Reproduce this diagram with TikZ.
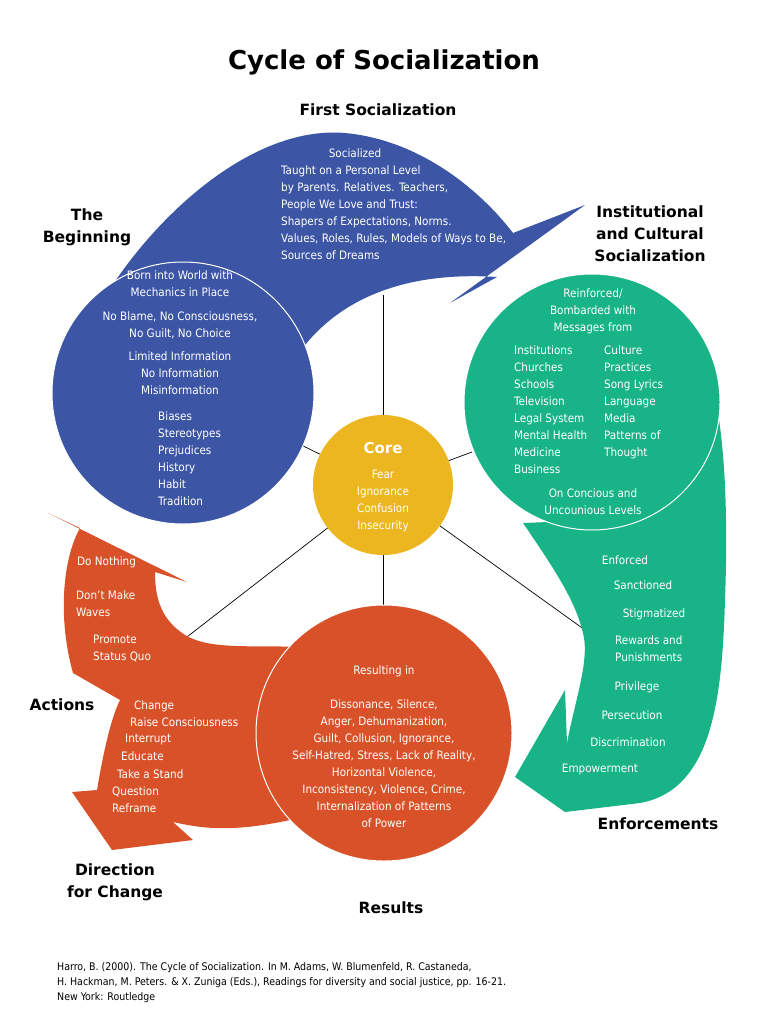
\documentclass[tikz,border=0pt]{standalone}
\usepackage{fontspec}
\setmainfont{DejaVu Sans Condensed}
\newfontfamily\boldf{DejaVu Sans}
\definecolor{cblue}{RGB}{60,85,165}
\definecolor{cgreen}{RGB}{24,180,135}
\definecolor{corange}{RGB}{217,81,40}
\definecolor{cyellow}{RGB}{236,182,33}
\begin{document}
\begin{tikzpicture}[x=1pt,y=-1pt,
  txt/.style={text=white,inner sep=0,font=\fontsize{11.6}{17}\selectfont,anchor=north},
  lab/.style={inner sep=0,font=\boldf\bfseries\fontsize{15.5}{22}\selectfont,align=center},
  circ/.style={circle,draw=white,line width=1pt,inner sep=0},
  spoke/.style={black,line width=0.7pt}]
\useasboundingbox (0,0) rectangle (768,1024);
\node[font=\boldf\bfseries\fontsize{26}{28}\selectfont,inner sep=0] (title) at (384,62) {Cycle of Socialization};
% core + spokes
\coordinate (c) at (383,485);
\coordinate (s1) at (383,295);
\coordinate (s2) at (295,442);
\coordinate (s3) at (472,452);
\coordinate (s4) at (183,640);
\coordinate (s5) at (383,618);
\coordinate (s6) at (585,630);
\foreach \s in {s1,s2,s3,s4,s5,s6} \draw[spoke] (c) -- (\s);
% blue arrow
\fill[cblue] (100,305) .. controls (150,220) and (250,125) .. (345,133)
  .. controls (420,140) and (480,190) .. (513,233) -- (585,205) -- (450,303)
  -- (497,277) .. controls (420,272) and (350,290) .. (305,345) -- (150,300) -- cycle;
\node[circ,fill=cblue,minimum size=262pt] (blue) at (183,393) {};
% green arrow
\fill[cgreen] (690,330) .. controls (728,380) and (728,520) .. (725,600)
  .. controls (722,700) and (712,790) .. (640,803) -- (565,812) -- (515,777) -- (565,690) -- (567,743)
  .. controls (575,700) and (590,660) .. (583,633) .. controls (575,600) and (555,570) .. (523,523) -- (600,520) -- cycle;
\node[circ,fill=cgreen,minimum size=256pt] (green) at (592,402) {};
% orange arrow
\fill[corange] (48,513) -- (80,528) .. controls (62,560) and (58,620) .. (73,673)
  -- (120,700) .. controls (110,720) and (102,760) .. (97,790) -- (72,792) -- (112,850)
  -- (193,840) -- (173,822) .. controls (200,828) and (230,833) .. (290,820)
  -- (300,700) -- (303,647) .. controls (250,645) and (210,650) .. (185,635)
  .. controls (162,620) and (155,600) .. (155,572) -- (187,582) -- cycle;
\node[circ,fill=corange,minimum size=256pt] (orange) at (384,733) {};
\node[circle,fill=cyellow,inner sep=0,minimum size=140pt] (core) at (c) {};
% labels
\node[lab] (l1) at (378,110) {First Socialization};
\node[lab] (l2) at (87,227) {The\\Beginning};
\node[lab] (l3) at (650,234) {Institutional\\and Cultural\\Socialization};
\node[lab] (l4) at (62,705) {Actions};
\node[lab] (l5) at (115,882) {Direction\\for Change};
\node[lab] (l6) at (391,908) {Results};
\node[lab] (l7) at (658,824) {Enforcements};
% blue texts
\node[txt] (b0) at (355,148) {Socialized};
\node[txt,anchor=north west,align=left] (b1) at (281,165) {Taught on a Personal Level\\by Parents. Relatives. Teachers,\\People We Love and Trust:\\Shapers of Expectations, Norms.\\Values, Roles, Rules, Models of Ways to Be,\\Sources of Dreams};
\node[txt,align=center] (b2) at (180,270) {Born into World with\\Mechanics in Place};
\node[txt,align=center] (b3) at (180,311) {No Blame, No Consciousness,\\No Guilt, No Choice};
\node[txt,align=center] (b4) at (180,351) {Limited Information\\No Information\\Misinformation};
\node[txt,anchor=north west,align=left] (b5) at (158,411) {Biases\\Stereotypes\\Prejudices\\History\\Habit\\Tradition};
% core texts
\node[text=white,inner sep=0,font=\boldf\bfseries\fontsize{15}{17}\selectfont] (ct) at (383,448) {Core};
\node[txt,align=center] (cb) at (383,470) {Fear\\Ignorance\\Confusion\\Insecurity};
% green texts
\node[txt,align=center] (g0) at (593,288) {Reinforced/\\Bombarded with\\Messages from};
\node[txt,anchor=north west,align=left] (g1) at (514,345) {Institutions\\Churches\\Schools\\Television\\Legal System\\Mental Health\\Medicine\\Business};
\node[txt,anchor=north west,align=left] (g2) at (604,345) {Culture\\Practices\\Song Lyrics\\Language\\Media\\Patterns of\\Thought};
\node[txt,align=center] (g3) at (593,488) {On Concious and\\Uncounious Levels};
\node[txt] (e1) at (625,555) {Enforced};
\node[txt] (e2) at (643,580) {Sanctioned};
\node[txt] (e3) at (654,608) {Stigmatized};
\node[txt,anchor=north west,align=left] (e4) at (615,635) {Rewards and\\Punishments};
\node[txt] (e5) at (637,681) {Privilege};
\node[txt] (e6) at (632,710) {Persecution};
\node[txt] (e7) at (628,737) {Discrimination};
\node[txt] (e8) at (600,764) {Empowerment};
% orange texts
\node[txt] (o0) at (384,665) {Resulting in};
\node[txt,align=center] (o1) at (384,699) {Dissonance, Silence,\\Anger, Dehumanization,\\Guilt, Collusion, Ignorance,\\Self-Hatred, Stress, Lack of Reality,\\Horizontal Violence,\\Inconsistency, Violence, Crime,\\Internalization of Patterns\\of Power};
\node[txt,anchor=north west] (a1) at (77,556) {Do Nothing};
\node[txt,anchor=north west,align=left] (a2) at (76,590) {Don’t Make\\Waves};
\node[txt,anchor=north west,align=left] (a3) at (93,635) {Promote\\Status Quo};
\node[txt,anchor=north west] (d1) at (134,700) {Change};
\node[txt,anchor=north west] (d2) at (130,717) {Raise Consciousness};
\node[txt,anchor=north west] (d3) at (125,734) {Interrupt};
\node[txt,anchor=north west] (d4) at (121,751) {Educate};
\node[txt,anchor=north west] (d5) at (117,769) {Take a Stand};
\node[txt,anchor=north west] (d6) at (112,786) {Question};
\node[txt,anchor=north west] (d7) at (112,803) {Reframe};
% citation
\node[anchor=north west,align=left,inner sep=0,font=\fontsize{10.5}{15}\selectfont] (cite) at (57,962) {Harro, B. (2000). The Cycle of Socialization. In M. Adams, W. Blumenfeld, R. Castaneda,\\H. Hackman, M. Peters. \& X. Zuniga (Eds.), Readings for diversity and social justice, pp. 16-21.\\New York: Routledge};
\end{tikzpicture}
\end{document}
